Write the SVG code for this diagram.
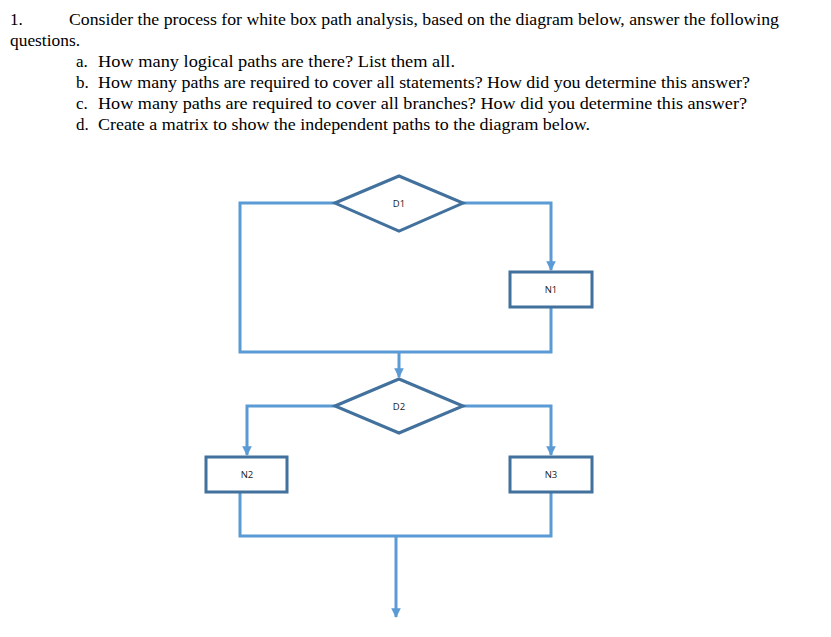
<svg xmlns="http://www.w3.org/2000/svg" width="831" height="637" viewBox="0 0 831 637">
<style>
.t{font-family:"Liberation Serif",serif;font-size:17px;fill:#000}
.n{fill:#fff;stroke:#41719c;stroke-width:3}
.l{font-family:"Open Sans","DejaVu Sans",sans-serif;font-size:9.5px;fill:#222;text-anchor:middle}
.c{fill:none;stroke:#5b9bd5;stroke-width:3}
</style>
<defs>
<marker id="b" viewBox="0 0 10 10" refX="9" refY="5" markerWidth="3.2" markerHeight="3.2" orient="auto"><path d="M0,0L10,5L0,10Z" fill="#5b9bd5"/></marker></defs>
<rect width="831" height="637" fill="#fff"/>
<g id="text">
<text class="t" x="10" y="25">1.</text>
<text class="t" x="69" y="25" textLength="710" lengthAdjust="spacingAndGlyphs">Consider the process for white box path analysis, based on the diagram below, answer the following</text>
<text class="t" x="10" y="46" textLength="70" lengthAdjust="spacingAndGlyphs">questions.</text>
<text class="t" x="76" y="67">a.</text><text class="t" x="98" y="67" textLength="357" lengthAdjust="spacingAndGlyphs">How many logical paths are there? List them all.</text>
<text class="t" x="76" y="88">b.</text><text class="t" x="98" y="88" textLength="652" lengthAdjust="spacingAndGlyphs">How many paths are required to cover all statements?  How did you determine this answer?</text>
<text class="t" x="76" y="109">c.</text><text class="t" x="98" y="109" textLength="649" lengthAdjust="spacingAndGlyphs">How many paths are required to cover all branches? How did you determine this answer?</text>
<text class="t" x="76" y="130">d.</text><text class="t" x="98" y="130" textLength="492" lengthAdjust="spacingAndGlyphs">Create a matrix to show the independent paths to the diagram below.</text>
</g>
<g id="connectors">
<path class="c" d="M335,203H240V352H551V307"/>
<path class="c" d="M463,203H551V270" marker-end="url(#b)"/>
<path class="c" d="M399,352V377" marker-end="url(#b)"/>
<path class="c" d="M335,406H247V455" marker-end="url(#b)"/>
<path class="c" d="M463,406H551V455" marker-end="url(#b)"/>
<path class="c" d="M240,492V536H551V492"/>
<path class="c" d="M396,536V617" marker-end="url(#b)"/>
</g>
<g id="D1"><path class="n" d="M335,203L399,176L463,203L399,231Z"/><text class="l" x="399" y="207">D1</text></g>
<g id="N1"><rect class="n" x="510" y="272" width="82" height="35"/><text class="l" x="551" y="293">N1</text></g>
<g id="D2"><path class="n" d="M335,406L399,379L463,406L399,433Z"/><text class="l" x="399" y="410">D2</text></g>
<g id="N2"><rect class="n" x="206" y="457" width="81" height="35"/><text class="l" x="247" y="478">N2</text></g>
<g id="N3"><rect class="n" x="510" y="457" width="82" height="35"/><text class="l" x="551" y="478">N3</text></g>
</svg>
